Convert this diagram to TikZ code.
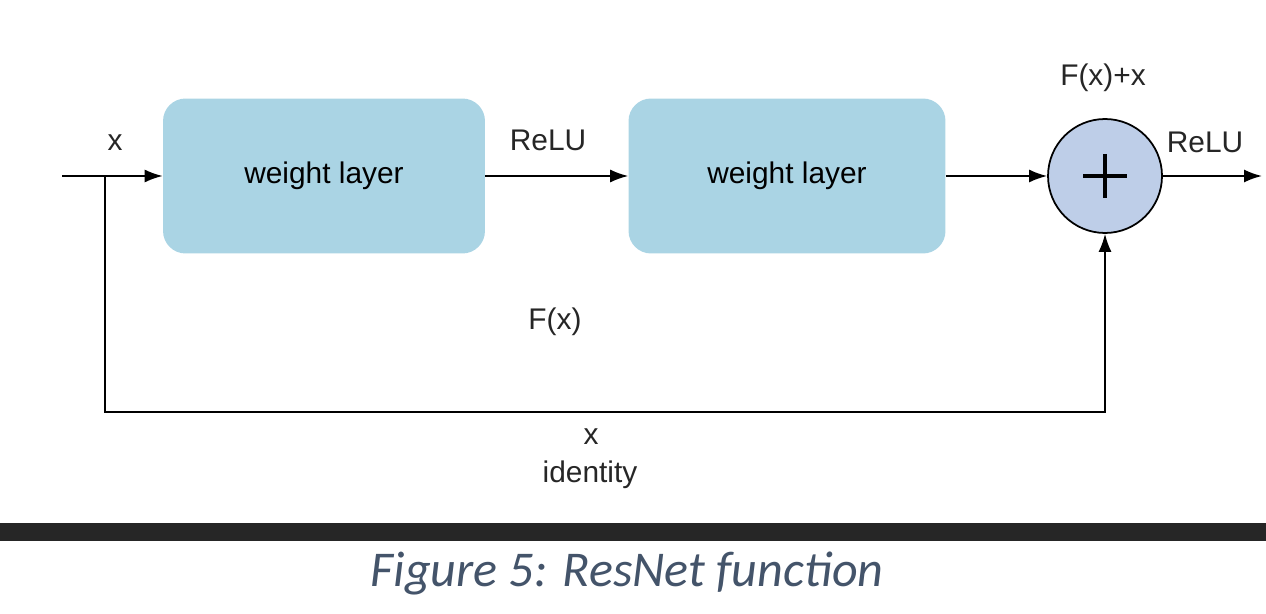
\documentclass[tikz,border=0pt]{standalone}
\usepackage{fontspec}
\setmainfont{Liberation Sans}
\newfontfamily\capfont{Carlito}
\usetikzlibrary{arrows.meta}
\definecolor{boxblue}{RGB}{170,212,228}
\definecolor{circblue}{RGB}{190,206,232}
\definecolor{capcol}{RGB}{68,84,106}
\definecolor{barcol}{RGB}{38,38,38}
\begin{document}
\begin{tikzpicture}[x=0.02cm,y=-0.02cm,
  lbl/.style={font=\fontsize{17}{20}\selectfont, text=black!85},
  wl/.style={draw=none, fill=boxblue, rounded corners=0.45cm, minimum width=6.44cm, minimum height=3.1cm, font=\fontsize{17}{20}\selectfont},
  arr/.style={-{Latex[length=0.36cm,width=0.26cm]}, line width=1pt}]
\useasboundingbox (0,0) rectangle (1266,614);
\node[wl] (w1) at (324,176) {weight layer};
\node[wl, minimum width=6.34cm] (w2) at (787,176) {weight layer};
\node[circle, draw, line width=1pt, fill=circblue, minimum size=2.28cm, inner sep=0pt] (sum) at (1105,176) {};
\draw[line width=2pt] (1105,154) -- (1105,198) (1083,176) -- (1127,176);
\coordinate (in) at (62,176);
\coordinate (br) at (105,176);
\coordinate (out) at (1262,176);
\draw[arr] (in) -- (w1.west);
\draw[arr] (w1.east) -- (w2.west);
\draw[arr] (w2.east) -- (sum.west);
\draw[arr] (sum.east) -- (out);
\draw[arr] (br) |- (591,412) -| (sum.south);
\node[lbl] (lx) at (115,143) {x};
\node[lbl] (lr1) at (548,140) {ReLU};
\node[lbl] (lfx) at (1103,78) {F(x)+x};
\node[lbl] (lr2) at (1205,142) {ReLU};
\node[lbl] (lf) at (555,322) {F(x)};
\node[lbl] (lx2) at (591,437) {x};
\node[lbl] (lid) at (590,475) {identity};
\fill[barcol] (0,523) rectangle (1266,541);
\node[text=capcol, font=\capfont\itshape\fontsize{28.5}{32}\selectfont] (cap) at (627,573) {Figure 5: ResNet function};
\end{tikzpicture}
\end{document}
